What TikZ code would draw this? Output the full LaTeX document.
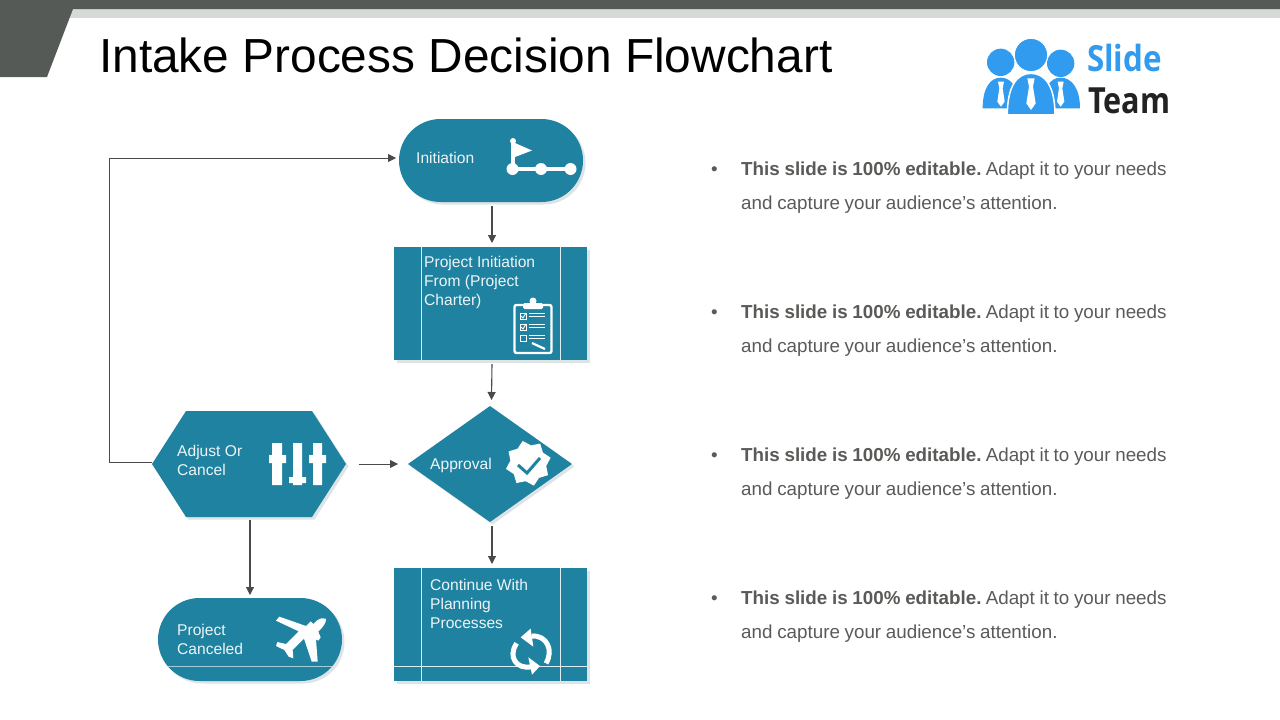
\documentclass[tikz,border=0pt]{standalone}
\usepackage{fontspec}
\setmainfont{Liberation Sans}
\newfontfamily\logofont{Open Sans}
\usetikzlibrary{shapes.misc,shapes.geometric,shapes.symbols,arrows.meta,shadows,calc}
\definecolor{teal1}{HTML}{1F82A0}
\definecolor{darkbar}{HTML}{565A56}
\definecolor{lightbar}{HTML}{D6DAD7}
\definecolor{bodytxt}{HTML}{595B58}
\definecolor{logoblue}{HTML}{319BEF}
\definecolor{logodark}{HTML}{222222}
\definecolor{linec}{HTML}{4A4A4A}
\definecolor{shadowc}{HTML}{DDE4E6}
\newcommand{\tightwords}{\spaceskip=0.25em plus 0pt\relax}
\tikzset{
 x=1pt,y=-1pt,
 flowshape/.style={fill=teal1,inner sep=0pt,outer sep=0pt,
   general shadow={shadow xshift=2.5pt,shadow yshift=-2.5pt,fill=shadowc}},
 pill/.style={flowshape,rounded rectangle,minimum width=184pt,minimum height=83pt},
 boxshape/.style={flowshape,rectangle,minimum width=193pt,minimum height=113pt},
 lab/.style={text=white!92!teal1,align=left,anchor=west,inner sep=0pt,font=\fontsize{15.6}{19}\selectfont},
 conn/.style={draw=linec,line width=1.1pt,-{Triangle[length=8pt,width=8pt]}},
 guide/.style={draw=white!85!teal1,line width=0.8pt},
 ico/.style={fill=white,draw=none},
 bul/.style={text=bodytxt,anchor=base west,inner sep=0pt,font=\fontsize{18.8}{22}\selectfont},
}
\begin{document}
\begin{tikzpicture}
\useasboundingbox (0,0) rectangle (1280,720);
\fill[white] (0,0) rectangle (1280,720);
% header
\fill[lightbar] (70,9) rectangle (1280,18);
\fill[darkbar] (0,0) -- (1280,0) -- (1280,9) -- (73,9) -- (47,77) -- (0,77) -- cycle;
\node[anchor=base west,inner sep=0pt,text=black,font=\fontsize{47.8}{50}\selectfont] (title) at (99,72.5) {Intake Process Decision Flowchart};
% logo
\begin{scope}[shift={(970,25)},scale=1/3]
 \fill[logoblue] (38,250) .. controls (38,190) and (60,158) .. (92,158) .. controls (125,158) and (148,190) .. (148,250) -- cycle;
 \fill[logoblue] (218,250) .. controls (218,190) and (240,158) .. (272,158) .. controls (305,158) and (330,190) .. (330,250) -- cycle;
 \fill[logoblue,draw=white,line width=1.5pt] (112,270) .. controls (112,185) and (140,145) .. (183,145) .. controls (226,145) and (255,185) .. (255,270) -- cycle;
 \fill[logoblue] (92,112) circle[radius=41];
 \fill[logoblue] (272,115) circle[radius=41];
 \fill[logoblue,draw=white,line width=1pt] (183,90) circle[radius=50];
 \fill[white] (172,160) -- (194,160) -- (189,185) -- (197,235) -- (183,255) -- (169,235) -- (177,185) -- cycle;
 \fill[white] (84,170) -- (102,170) -- (98,190) -- (104,230) -- (93,245) -- (82,230) -- (88,190) -- cycle;
 \fill[white] (263,170) -- (281,170) -- (277,190) -- (283,230) -- (272,245) -- (261,230) -- (267,190) -- cycle;
\end{scope}
\node[anchor=base west,inner sep=0pt,text=logoblue,font=\logofont\bfseries\fontsize{36}{40}\selectfont,xscale=.87] (slide) at (1087,71) {Slide};
\node[anchor=base west,inner sep=0pt,text=logodark,font=\logofont\bfseries\fontsize{36}{40}\selectfont,xscale=.85] (team) at (1088,113.5) {Team};
% shapes
\node[pill] (init) at (491,160.5) {};
\node[boxshape] (pic) at (490.5,303.5) {};
\node[flowshape,diamond,aspect=1.414,minimum width=164pt,minimum height=116pt] (appr) at (490,464) {};
\node[flowshape,signal,signal to=west and east,signal pointer angle=114.6,minimum width=194pt,minimum height=106pt] (adj) at (249,464) {};
\node[pill] (canc) at (250,639.5) {};
\node[boxshape] (cont) at (490.5,624.5) {};
% guide lines
\draw[guide] (421.5,247) -- (421.5,360) (560.5,247) -- (560.5,360);
\draw[guide] (421.5,568) -- (421.5,681) (560.5,568) -- (560.5,681) (394,666) -- (587,666);
\draw[guide,draw opacity=.7] (167,666) -- (338,666);
% connectors
\draw[conn] ([xshift=1pt,yshift=-3.5pt]init.south) -- ([xshift=1.5pt,yshift=4pt]pic.north);
\draw[conn] ([xshift=1.5pt,yshift=-4pt]pic.south) -- ([xshift=1.5pt,yshift=6pt]appr.north);
\draw[conn] ([xshift=2pt,yshift=-4pt]appr.south) -- ([xshift=1.5pt,yshift=4pt]cont.north);
\draw[conn,line width=.8pt] ([xshift=-49.5pt]appr.west) -- ([xshift=-10pt]appr.west);
\draw[conn] ([xshift=1pt,yshift=-3pt]adj.south) -- ([yshift=3pt]canc.north);
\draw[conn,line width=0.8pt] ([yshift=2pt]adj.west) -| (109,158) -- ([xshift=-3pt,yshift=2.5pt]init.west);
% labels
\node[lab] (l1) at (416,158) {Initiation};
\node[lab] (l2) at (424,282) {Project Initiation\\From (Project\\Charter)};
\node[lab] (l3) at (430,465.5) {Approval};
\node[lab] (l4) at (177,460) {Adjust Or\\Cancel};
\node[lab] (l5) at (177,639) {Project\\Canceled};
\node[lab] (l6) at (430,604) {Continue With\\Planning\\Processes};
% flag icon
\draw[white,line width=3.2pt] (513,142) -- (513,169) -- (570,169);
\fill[white] (513,141) circle[radius=3] (512.5,169) circle[radius=6] (541,169) circle[radius=6] (570.5,169) circle[radius=6];
\fill[white] (515,143) -- (532,150.5) -- (515,157) -- cycle;
% clipboard icon
\draw[white,line width=2.4pt,rounded corners=2pt,fill=teal1] (514.5,305) rectangle (551.5,353);
\fill[white,rounded corners=1.5pt] (523,303) rectangle (543,309);
\fill[white] (533,301) circle[radius=3.5];
\draw[white,line width=.8pt] (520,313) rectangle (526,319) (520,324) rectangle (526,330) (520,335) rectangle (526,341);
\draw[white,line width=1.2pt] (529,313.5) -- (545,313.5) (529,316.5) -- (545,316.5) (529,324.5) -- (545,324.5) (529,327.5) -- (545,327.5) (529,335.5) -- (545,335.5) (529,338.5) -- (545,338.5);
\draw[white,line width=.9pt] (521,316) -- (523,318) -- (526,313) (521,327) -- (523,329) -- (526,324);
\draw[white,line width=2.2pt] (532,343) -- (545,349);
% sliders icon
\fill[ico] (272,443) rectangle (282,485) (269,455) rectangle (286,463);
\fill[ico] (293,443) rectangle (302,485) (289,477) rectangle (306,483);
\fill[ico] (313,443) rectangle (322,485) (309,455) rectangle (326,463);
% badge icon
\node[ico,star,star points=8,star point ratio=1.27,minimum size=46pt,inner sep=0pt,rotate=14] (badge) at (528.3,463.3) {};
\draw[teal1,line width=3pt] (518,465) -- (527,473) -- (540,458);
% plane and refresh icons
\begin{scope}[shift={(100,400)},scale=1/3]
 \fill[ico] (678,656) .. controls (680,668) and (668,682) .. (655,695) -- (662,712) -- (655,722) -- (648,718) -- (653,785) -- (635,785) -- (612,716) -- (578,750) -- (580,775) -- (566,770) -- (553,750) -- (528,738) -- (532,726) -- (558,732) -- (596,694) -- (528,662) -- (538,650) -- (618,678) -- (632,664) -- (640,672) -- (650,662) .. controls (660,655) and (670,652) .. (678,656) -- cycle;
 \draw[white,line width=5pt] (1338,790) .. controls (1362,750) and (1340,705) .. (1295,708);
 \fill[ico] (1262,712) -- (1292,686) -- (1300,740) -- cycle;
 \draw[white,line width=5pt] (1250,730) .. controls (1222,770) and (1250,810) .. (1295,800);
 \fill[ico] (1320,798) -- (1296,824) -- (1285,772) -- cycle;
\end{scope}
% bullet text
\foreach \n/\y in {a/175,b/318,c/461,d/604}{
 \node[bul] (dot\n) at (711,\y) {•};
 \node[bul] (one\n) at (741,\y) {\tightwords\textbf{This slide is 100\% editable.}\hspace{-2.2pt} Adapt it to your needs};
 \node[bul] (two\n) at (741,\y+34) {\tightwords and capture your audience's attention.};
}
\end{tikzpicture}
\end{document}
